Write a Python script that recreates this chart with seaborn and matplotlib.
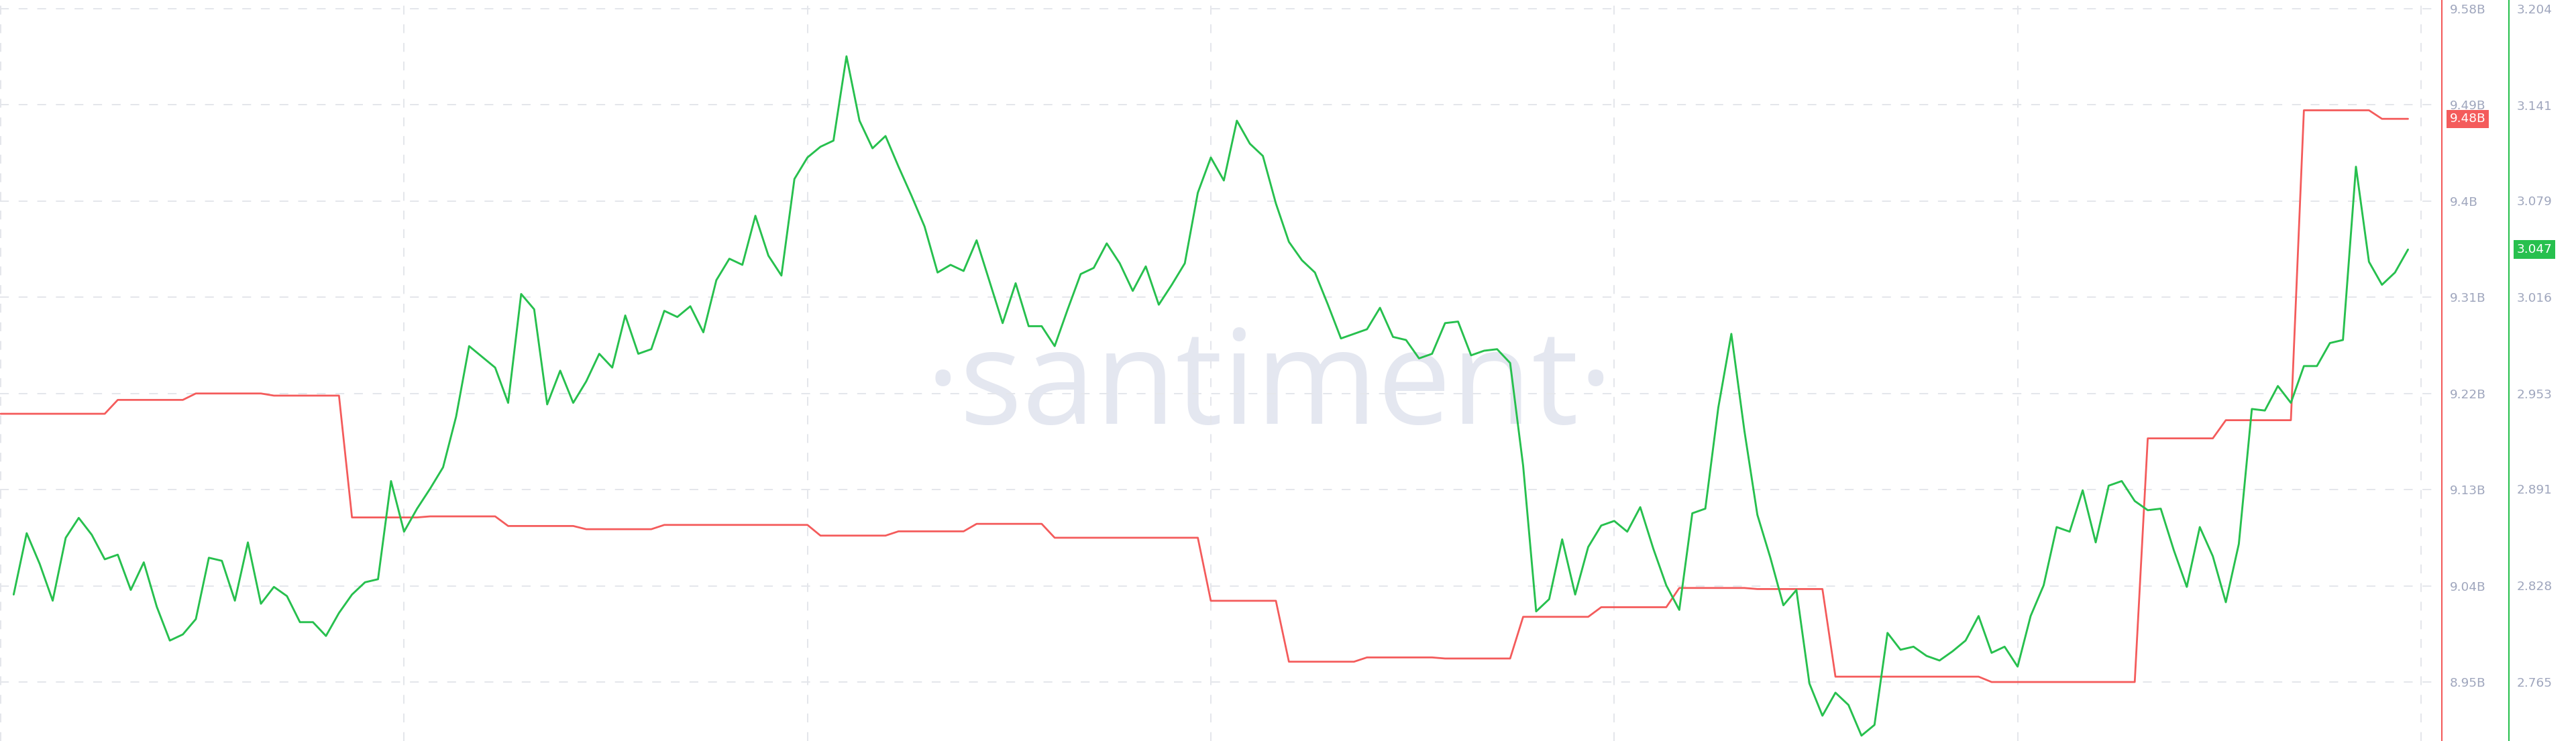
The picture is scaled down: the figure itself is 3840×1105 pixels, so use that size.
#!/usr/bin/env python3
"""
Santiment-style dual axis chart: a stepwise supply-like metric (red, billions)
against daily price (green), both on right-hand axes.
"""
import matplotlib
matplotlib.use("Agg")
import matplotlib.pyplot as plt
import matplotlib.transforms as mtransforms
import numpy as np
import pandas as pd
import seaborn as sns

# ---- data ---------------------------------------------------------------
# red metric, in billions, one value per day (first value is the day before the green series starts)
red_values = [
    9.201, 9.201, 9.201, 9.201, 9.201, 9.201, 9.201, 9.201, 9.201,
    9.214, 9.214, 9.214, 9.214, 9.214, 9.214,
    9.220, 9.220, 9.220, 9.220, 9.220, 9.220,
    9.218, 9.218, 9.218, 9.218, 9.218, 9.218,
    9.104, 9.104, 9.104, 9.104, 9.104, 9.104,
    9.105, 9.105, 9.105, 9.105, 9.105, 9.105,
    9.096, 9.096, 9.096, 9.096, 9.096, 9.096,
    9.093, 9.093, 9.093, 9.093, 9.093, 9.093,
    9.097, 9.097, 9.097, 9.097, 9.097, 9.097,
    9.097, 9.097, 9.097, 9.097, 9.097, 9.097,
    9.087, 9.087, 9.087, 9.087, 9.087, 9.087,
    9.091, 9.091, 9.091, 9.091, 9.091, 9.091,
    9.098, 9.098, 9.098, 9.098, 9.098, 9.098,
    9.085, 9.085, 9.085, 9.085, 9.085, 9.085,
    9.085, 9.085, 9.085, 9.085, 9.085, 9.085,
    9.026, 9.026, 9.026, 9.026, 9.026, 9.026,
    8.969, 8.969, 8.969, 8.969, 8.969, 8.969,
    8.973, 8.973, 8.973, 8.973, 8.973, 8.973,
    8.972, 8.972, 8.972, 8.972, 8.972, 8.972,
    9.011, 9.011, 9.011, 9.011, 9.011, 9.011,
    9.020, 9.020, 9.020, 9.020, 9.020, 9.020,
    9.038, 9.038, 9.038, 9.038, 9.038, 9.038,
    9.037, 9.037, 9.037, 9.037, 9.037, 9.037,
    8.955, 8.955, 8.955, 8.955, 8.955, 8.955,
    8.955, 8.955, 8.955, 8.955, 8.955, 8.955,
    8.950, 8.950, 8.950, 8.950, 8.950, 8.950,
    8.950, 8.950, 8.950, 8.950, 8.950, 8.950,
    9.178, 9.178, 9.178, 9.178, 9.178, 9.178,
    9.195, 9.195, 9.195, 9.195, 9.195, 9.195,
    9.485, 9.485, 9.485, 9.485, 9.485, 9.485,
    9.477, 9.477, 9.477,
]

# green metric (price), one value per day
green_values = [
    2.822, 2.862, 2.842, 2.818, 2.859, 2.872, 2.861, 2.845, 2.848, 2.825,
    2.843, 2.814, 2.792, 2.796, 2.806, 2.846, 2.844, 2.818, 2.856, 2.816,
    2.827, 2.821, 2.804, 2.804, 2.795, 2.810, 2.822, 2.830, 2.832, 2.896,
    2.863, 2.878, 2.891, 2.905, 2.938, 2.984, 2.977, 2.970, 2.947, 3.018,
    3.008, 2.946, 2.968, 2.947, 2.961, 2.979, 2.970, 3.004, 2.979, 2.982,
    3.007, 3.003, 3.010, 2.993, 3.027, 3.041, 3.037, 3.069, 3.043, 3.030,
    3.093, 3.107, 3.114, 3.118, 3.173, 3.131, 3.113, 3.121, 3.101, 3.082,
    3.062, 3.032, 3.037, 3.033, 3.053, 3.026, 2.999, 3.025, 2.997, 2.997,
    2.984, 3.008, 3.031, 3.035, 3.051, 3.038, 3.020, 3.036, 3.011, 3.024,
    3.038, 3.084, 3.107, 3.092, 3.131, 3.116, 3.108, 3.077, 3.052, 3.040,
    3.032, 3.011, 2.989, 2.992, 2.995, 3.009, 2.990, 2.988, 2.976, 2.979,
    2.999, 3.000, 2.978, 2.981, 2.982, 2.973, 2.906, 2.811, 2.819, 2.858,
    2.822, 2.853, 2.867, 2.870, 2.863, 2.879, 2.852, 2.828, 2.812, 2.875,
    2.878, 2.944, 2.992, 2.929, 2.874, 2.846, 2.815, 2.825, 2.764, 2.743,
    2.758, 2.750, 2.730, 2.737, 2.797, 2.786, 2.788, 2.782, 2.779, 2.785,
    2.792, 2.808, 2.784, 2.788, 2.775, 2.808, 2.828, 2.866, 2.863, 2.890,
    2.856, 2.893, 2.896, 2.883, 2.877, 2.878, 2.851, 2.827, 2.866, 2.847,
    2.817, 2.855, 2.943, 2.942, 2.958, 2.947, 2.971, 2.971, 2.986, 2.988,
    3.101, 3.039, 3.024, 3.032, 3.047,
]

red_ticks = [8.95, 9.04, 9.13, 9.22, 9.31, 9.40, 9.49, 9.58]
red_tick_labels = ["8.95B", "9.04B", "9.13B", "9.22B", "9.31B", "9.4B", "9.49B", "9.58B"]
green_ticks = [2.765, 2.828, 2.891, 2.953, 3.016, 3.079, 3.141, 3.204]
green_tick_labels = ["2.765", "2.828", "2.891", "2.953", "3.016", "3.079", "3.141", "3.204"]

RED = "#f45b5b"
GREEN = "#27c04e"
LABEL = "#9fa6bd"
GRID = "#e4e6eb"


def main():
    red_df = pd.DataFrame({"day": np.arange(-1, len(red_values) - 1), "value": red_values})
    green_df = pd.DataFrame({"day": np.arange(len(green_values)), "value": green_values})

    sns.set_style("white")
    plt.rcParams["font.family"] = ["DejaVu Sans"]
    plt.rcParams["lines.scale_dashes"] = False

    fig = plt.figure(figsize=(38.4, 11.05), dpi=100)
    fig.patch.set_facecolor("white")
    ax1 = fig.add_axes([0, 0, 3640 / 3840, 1])
    ax2 = ax1.twinx()

    # watermark
    ax1.text(0.52, 0.428, "\u00b7santiment\u00b7", transform=ax1.transAxes,
             ha="center", va="baseline", fontsize=141, color="#e4e7f0",
             family=["Open Sans", "DejaVu Sans"], zorder=0)

    sns.lineplot(data=red_df, x="day", y="value", ax=ax1, color=RED,
                 linewidth=2.0, zorder=3)
    sns.lineplot(data=green_df, x="day", y="value", ax=ax2, color=GREEN,
                 linewidth=2.1, zorder=4)

    # axes ranges (both scales share the same grid rows)
    ax1.set_xlim(-1.05, 186.6)
    ax1.set_ylim(8.8948, 9.5882)
    ax2.set_ylim(2.7265, 3.2097)

    # grid
    ax1.set_xticks([-1, 30, 61, 92, 123, 154, 185])
    ax1.set_yticks(red_ticks)
    ax1.grid(True, color=GRID, linewidth=1.4, linestyle=(0, (9.5, 10.5)))
    ax1.set_axisbelow(True)
    ax1.tick_params(axis="x", length=0, labelbottom=False)
    ax1.set_xlabel("")
    ax1.set_ylabel("")
    ax2.set_ylabel("")

    # red axis on the right
    ax1.yaxis.tick_right()
    ax1.set_yticklabels(red_tick_labels)
    ax1.tick_params(axis="y", length=0, pad=8.6, labelsize=13.3, labelcolor=LABEL)
    for side in ["left", "top", "bottom"]:
        ax1.spines[side].set_visible(False)
    ax1.spines["right"].set_color(RED)
    ax1.spines["right"].set_linewidth(1.5)

    # green axis further right
    ax2.set_yticks(green_ticks)
    ax2.set_yticklabels(green_tick_labels)
    ax2.tick_params(axis="y", length=0, pad=8.6, labelsize=13.3, labelcolor=LABEL)
    for side in ["left", "top", "bottom"]:
        ax2.spines[side].set_visible(False)
    ax2.spines["right"].set_position(("outward", 72))
    ax2.spines["right"].set_color(GREEN)
    ax2.spines["right"].set_linewidth(1.5)
    ax2.grid(False)

    # last value badges
    tr1 = mtransforms.blended_transform_factory(ax1.transAxes, ax1.transData)
    ax1.text(1.0 + 12 / 3640, red_values[-1], f"{red_values[-1]:.2f}B", transform=tr1,
             ha="left", va="center", fontsize=13.3, color="white", zorder=10,
             bbox=dict(boxstyle="square,pad=0.25", fc=RED, ec="none"), clip_on=False)
    tr2 = mtransforms.blended_transform_factory(ax2.transAxes, ax2.transData)
    ax2.text(1.0 + 112 / 3640, green_values[-1], f"{green_values[-1]:.3f}", transform=tr2,
             ha="left", va="center", fontsize=13.3, color="white", zorder=10,
             bbox=dict(boxstyle="square,pad=0.25", fc=GREEN, ec="none"), clip_on=False)

    fig.savefig("out.png", dpi=100, facecolor="white")
    plt.close(fig)


if __name__ == "__main__":
    main()
